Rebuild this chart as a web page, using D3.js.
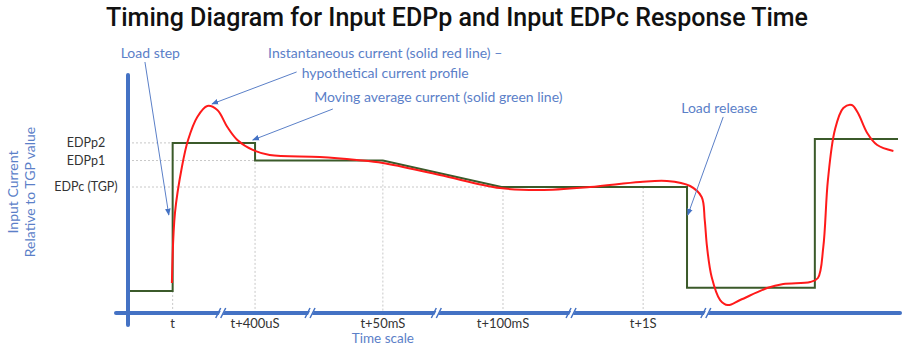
<!DOCTYPE html>
<html>
<head>
<meta charset="utf-8">
<script src="https://cdn.jsdelivr.net/npm/d3@7"></script>
<style>
  body { margin: 0; background: #fff; }
  svg { display: block; }
</style>
</head>
<body>
<svg id="chart" width="914" height="346"></svg>
<script>
// schematic units: x = 0..100 along the broken time axis, y = current with EDPc (TGP) = 100
const levelNames = ['EDPp2', 'EDPp1', 'EDPc (TGP)'];
const levelValues = [135, 121, 100];

const tickLabels = ['t', 't+400uS', 't+50mS', 't+100mS', 't+1S'];
const tickValues = [5.8, 16.5, 33.1, 48.7, 66.9];
const tickLevels = [17.5, 135, 121, 100, 100]; // where the vertical grid starts
const levelEnds = [16.5, 16.5, 48.7];          // where the horizontal grid stops

const breakValues = [12.3, 23.9, 40.3, 57.8, 75.3];

// moving average current (green)
const avgX = [0, 5.8, 5.8, 16.5, 16.5, 33.1, 48.5, 72.6, 72.6, 89.2, 89.2, 100];
const avgY = [17.5, 17.5, 135, 135, 121, 121, 100, 100, 20, 20, 138, 138];

// instantaneous current (red)
const instX = [5.7, 6.1, 7.0, 7.8, 9.0, 10.3, 11.6, 12.9, 14.2, 16.2, 18.4, 24.9, 29.7, 33.1, 40.5, 48.3,
  53.5, 60.0, 66.5, 70.0, 73.0, 74.5, 74.9, 75.2, 75.8, 76.9, 77.9, 79.5, 83.0, 85.1, 88.6, 89.6,
  90.3, 90.9, 91.8, 92.9, 94.0, 94.8, 96.0, 97.3, 99.4];
const instY = [23.8, 79.4, 115.9, 137.3, 155.6, 164.3, 161.1, 147.6, 137.3, 129.4, 125.4, 123.8, 121.4, 119.0, 109.5, 99.2,
  97.6, 100, 104.0, 104.8, 100.8, 92.1, 73.8, 52.4, 28.6, 10.3, 6.3, 10.3, 19.8, 23.0, 24.6, 27.8,
  52.4, 105.6, 145.2, 162.7, 165.1, 158.7, 142.9, 133.3, 128.6];

// callouts: text lines, text anchor point, arrow start and arrow tip
const noteLines = [['Load step'], ['Instantaneous current (solid red line) \u2013', 'hypothetical current profile'],
  ['Moving average current (solid green line)'], ['Load release']];
const noteAt = [[2.9, 206], [33.4, 206], [40.3, 171.4], [76.8, 162.7]];
const noteFrom = [[2.2, 199.2], [21.9, 191.3], [26.6, 161.9], [77.3, 155.6]];
const noteTo = [[5.3, 77.8], [10.9, 165.9], [16.2, 137.3], [72.7, 77.8]];

const svg = d3.select('#chart');
const blue = '#4472c4';
const noteBlue = '#5b80c8';

const x = d3.scaleLinear().domain([0, 100]).range([128, 898]);
const y = d3.scaleLinear().domain([0, 200]).range([313, 61]);

// Title
svg.append('text')
  .attr('x', 457).attr('y', 26)
  .attr('text-anchor', 'middle')
  .attr('font-family', 'Roboto, sans-serif')
  .attr('font-weight', 500)
  .attr('font-size', '25px')
  .attr('fill', '#111')
  .text('Timing Diagram for Input EDPp and Input EDPc Response Time');

// Grid
const grid = svg.append('g')
  .attr('stroke', '#c8c8c8')
  .attr('stroke-width', 1)
  .attr('stroke-dasharray', '2,2');

levelValues.forEach((v, i) => {
  grid.append('line')
    .attr('x1', x(0)).attr('x2', x(levelEnds[i]))
    .attr('y1', y(v)).attr('y2', y(v));
});
tickValues.forEach((v, i) => {
  grid.append('line')
    .attr('x1', x(v)).attr('x2', x(v))
    .attr('y1', y(tickLevels[i])).attr('y2', y(0));
});

// Level labels
svg.append('g')
  .selectAll('text')
  .data(levelNames)
  .join('text')
  .attr('x', 86)
  .attr('y', (d, i) => y(levelValues[i]) + 4)
  .attr('text-anchor', 'middle')
  .attr('font-family', 'Lato, sans-serif')
  .attr('font-size', '12.5px')
  .attr('fill', '#333')
  .text(d => d);

// Tick labels
svg.append('g')
  .selectAll('text')
  .data(tickLabels)
  .join('text')
  .attr('x', (d, i) => x(tickValues[i]))
  .attr('y', 328)
  .attr('text-anchor', 'middle')
  .attr('font-family', 'Lato, sans-serif')
  .attr('font-size', '13px')
  .attr('fill', '#333')
  .text(d => d);

svg.append('text')
  .attr('x', x(tickValues[2])).attr('y', 343)
  .attr('text-anchor', 'middle')
  .attr('font-family', 'Lato, sans-serif')
  .attr('font-size', '13.5px')
  .attr('fill', noteBlue)
  .text('Time scale');

// Y title
const yTitle = svg.append('text')
  .attr('transform', 'translate(21,192) rotate(-90)')
  .attr('text-anchor', 'middle')
  .attr('font-family', 'Lato, sans-serif')
  .attr('font-size', '14px')
  .attr('fill', noteBlue);
yTitle.append('tspan').attr('x', 0).attr('dy', -3).text('Input Current');
yTitle.append('tspan').attr('x', 0).attr('dy', 17).text('Relative to TGP value');

// Lines
const line = d3.line()
  .x(d => x(d[0]))
  .y(d => y(d[1]));

svg.append('path')
  .datum(avgX.map((v, i) => [v, avgY[i]]))
  .attr('d', line)
  .attr('fill', 'none')
  .attr('stroke', '#3b5a2a')
  .attr('stroke-width', 2);

svg.append('path')
  .datum(instX.map((v, i) => [v, instY[i]]))
  .attr('d', line.curve(d3.curveCatmullRom.alpha(0.5)))
  .attr('fill', 'none')
  .attr('stroke', '#ff1a1a')
  .attr('stroke-width', 2);

// Axes
svg.append('line')
  .attr('x1', x(0)).attr('x2', x(0))
  .attr('y1', 75).attr('y2', 325)
  .attr('stroke', blue).attr('stroke-width', 4).attr('stroke-linecap', 'round');

svg.append('line')
  .attr('x1', 116).attr('x2', 900)
  .attr('y1', y(0)).attr('y2', y(0))
  .attr('stroke', blue).attr('stroke-width', 4).attr('stroke-linecap', 'round');

// Axis breaks
const breaks = svg.append('g')
  .selectAll('g')
  .data(breakValues)
  .join('g')
  .attr('transform', d => `translate(${x(d)},${y(0)})`);
breaks.append('path')
  .attr('d', 'M-5,4 L-1,-4 L3,-4 L-1,4 Z')
  .attr('fill', '#fff');
breaks.append('path')
  .attr('d', 'M-7,5 L-2,-5 M-2,5 L3,-5')
  .attr('stroke', blue).attr('stroke-width', 1.5);

// Callouts
svg.append('defs').append('marker')
  .attr('id', 'tip')
  .attr('viewBox', '0 0 10 10')
  .attr('refX', 9).attr('refY', 5)
  .attr('markerWidth', 7).attr('markerHeight', 7)
  .attr('orient', 'auto')
  .append('path')
  .attr('d', 'M0,1 L10,5 L0,9 Z')
  .attr('fill', blue);

noteLines.forEach((lines, i) => {
  svg.append('line')
    .attr('x1', x(noteFrom[i][0])).attr('y1', y(noteFrom[i][1]))
    .attr('x2', x(noteTo[i][0])).attr('y2', y(noteTo[i][1]))
    .attr('stroke', noteBlue).attr('stroke-width', 1)
    .attr('marker-end', 'url(#tip)');

  const t = svg.append('text')
    .attr('text-anchor', 'middle')
    .attr('font-family', 'Lato, sans-serif')
    .attr('font-size', '14px')
    .attr('fill', noteBlue);
  lines.forEach((s, j) => {
    t.append('tspan')
      .attr('x', x(noteAt[i][0]))
      .attr('y', y(noteAt[i][1]) + 5 + j * 20)
      .text(s);
  });
});
</script>
</body>
</html>
